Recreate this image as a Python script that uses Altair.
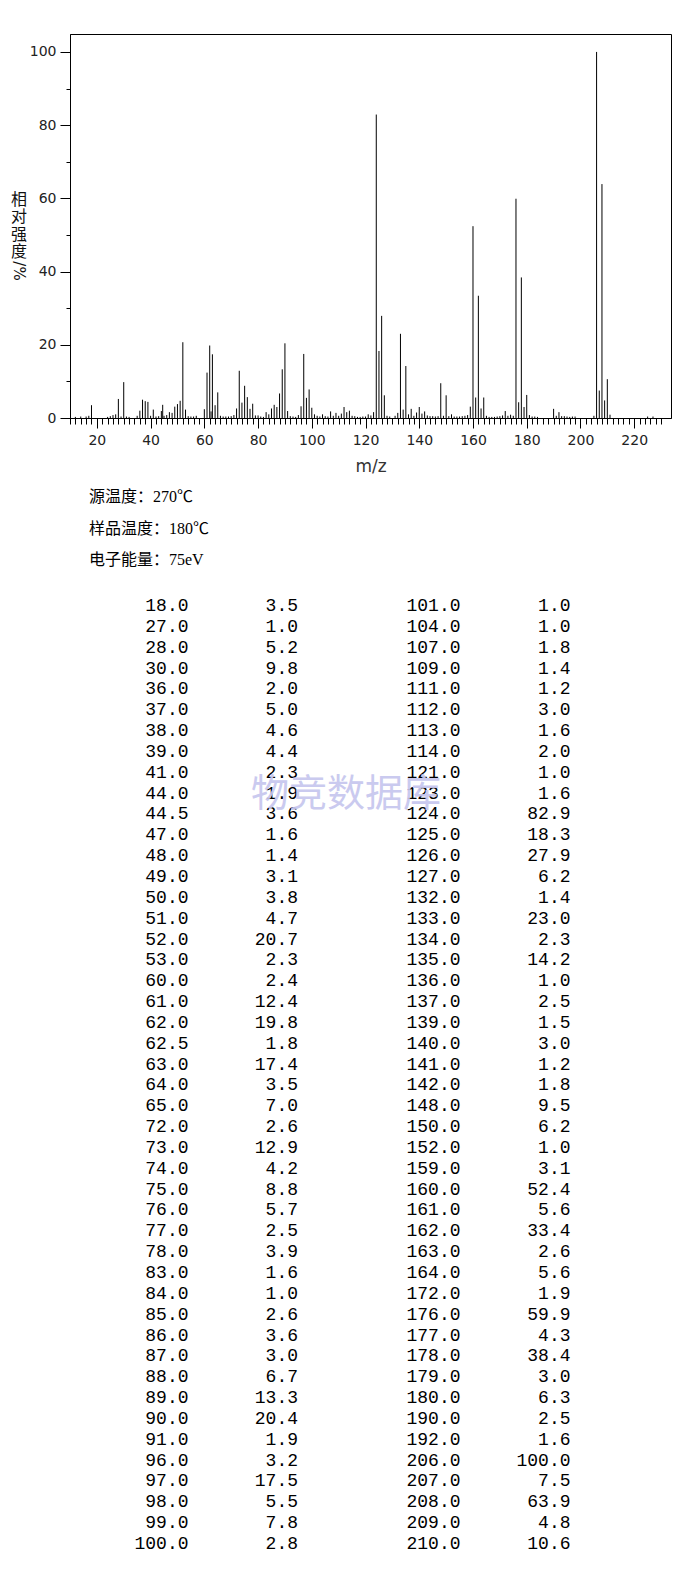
import altair as alt
import pandas as pd

# ---- data ----
col1_mz = [18.0, 27.0, 28.0, 30.0, 36.0, 37.0, 38.0, 39.0, 41.0, 44.0, 44.5, 47.0, 48.0, 49.0, 50.0, 51.0,
           52.0, 53.0, 60.0, 61.0, 62.0, 62.5, 63.0, 64.0, 65.0, 72.0, 73.0, 74.0, 75.0, 76.0, 77.0, 78.0,
           83.0, 84.0, 85.0, 86.0, 87.0, 88.0, 89.0, 90.0, 91.0, 96.0, 97.0, 98.0, 99.0, 100.0]
col1_int = [3.5, 1.0, 5.2, 9.8, 2.0, 5.0, 4.6, 4.4, 2.3, 1.9, 3.6, 1.6, 1.4, 3.1, 3.8, 4.7,
            20.7, 2.3, 2.4, 12.4, 19.8, 1.8, 17.4, 3.5, 7.0, 2.6, 12.9, 4.2, 8.8, 5.7, 2.5, 3.9,
            1.6, 1.0, 2.6, 3.6, 3.0, 6.7, 13.3, 20.4, 1.9, 3.2, 17.5, 5.5, 7.8, 2.8]
col2_mz = [101.0, 104.0, 107.0, 109.0, 111.0, 112.0, 113.0, 114.0, 121.0, 123.0, 124.0, 125.0, 126.0,
           127.0, 132.0, 133.0, 134.0, 135.0, 136.0, 137.0, 139.0, 140.0, 141.0, 142.0, 148.0, 150.0,
           152.0, 159.0, 160.0, 161.0, 162.0, 163.0, 164.0, 172.0, 176.0, 177.0, 178.0, 179.0, 180.0,
           190.0, 192.0, 206.0, 207.0, 208.0, 209.0, 210.0]
col2_int = [1.0, 1.0, 1.8, 1.4, 1.2, 3.0, 1.6, 2.0, 1.0, 1.6, 82.9, 18.3, 27.9,
            6.2, 1.4, 23.0, 2.3, 14.2, 1.0, 2.5, 1.5, 3.0, 1.2, 1.8, 9.5, 6.2,
            1.0, 3.1, 52.4, 5.6, 33.4, 2.6, 5.6, 1.9, 59.9, 4.3, 38.4, 3.0, 6.3,
            2.5, 1.6, 100.0, 7.5, 63.9, 4.8, 10.6]

# small peaks (<1 %) visible in the spectrum but not listed in the table (estimated)
minor_mz = [12, 14, 16, 17, 24, 25, 26, 29, 31, 32, 35, 40, 42, 43, 45, 46, 54, 55, 56, 57,
            66, 67, 68, 69, 70, 71, 79, 80, 81, 82, 92, 93, 94, 95, 102, 103, 105, 106, 108, 110,
            115, 116, 117, 118, 119, 120, 122, 128, 129, 131, 138, 143, 144, 145, 146, 147, 149,
            151, 153, 154, 155, 156, 157, 158, 165, 166, 167, 168, 169, 170, 171, 173, 174, 175,
            181, 182, 183, 184, 191, 193, 194, 195, 196, 197, 198, 205, 211, 225, 227]
minor_int = [0.3, 0.4, 0.4, 0.6, 0.3, 0.5, 0.8, 0.4, 0.4, 0.3, 0.6, 0.6, 0.4, 0.5, 0.6, 0.8, 0.5, 0.4, 0.4, 0.6,
             0.6, 0.4, 0.4, 0.4, 0.5, 0.8, 0.7, 0.7, 0.4, 0.3, 0.5, 0.4, 0.3, 0.8, 0.6, 0.4, 0.5, 0.4, 0.6, 0.6,
             0.6, 0.5, 0.3, 0.3, 0.4, 0.4, 0.7, 0.6, 0.4, 0.6, 0.6, 0.7, 0.5, 0.5, 0.4, 0.5, 0.6,
             0.5, 0.4, 0.4, 0.4, 0.5, 0.6, 0.8, 0.6, 0.3, 0.3, 0.3, 0.4, 0.5, 0.7, 0.6, 0.9, 0.6,
             0.8, 0.4, 0.4, 0.3, 0.6, 0.5, 0.5, 0.4, 0.3, 0.4, 0.4, 0.6, 0.9, 0.4, 0.4]

info_lines = ["源温度：270℃", "样品温度：180℃", "电子能量：75eV"]
y_title_chars = ["相", "对", "强", "度"]
y_title_unit = "/%"
x_title = "m/z"
watermark = "物竞数据库"

x_ticks = list(range(10, 231, 2))
y_ticks = list(range(0, 101, 10))

# ---- tables ----
peaks = pd.DataFrame({"mz": col1_mz + col2_mz + minor_mz,
                      "inten": col1_int + col2_int + minor_int})
n_rows = len(col1_mz)
tab = pd.DataFrame({
    "row": list(range(n_rows)),
    "c1": [f"{v:.1f}" for v in col1_mz],
    "c2": [f"{v:.1f}" for v in col1_int],
    "c3": [f"{v:.1f}" for v in col2_mz],
    "c4": [f"{v:.1f}" for v in col2_int],
})
info = pd.DataFrame({"i": list(range(len(info_lines))), "t": info_lines})
ytc = pd.DataFrame({"i": list(range(len(y_title_chars))), "t": y_title_chars})
one = pd.DataFrame({"k": [0]})

LABEL_FONT = "DejaVu Sans"
CJK = "Noto Sans CJK SC"
MONO = "Liberation Mono"

spec = alt.Chart(peaks).mark_rule(color="black", strokeWidth=1).encode(
    x=alt.X("mz:Q",
            scale=alt.Scale(domain=[10, 233.7], nice=False, zero=False),
            axis=alt.Axis(values=x_ticks,
                          labelExpr="datum.value % 20 === 0 ? datum.label : ''",
                          tickSize={"condition": {"test": "datum.value % 20 === 0", "value": 10}, "value": 6},
                          title=x_title, titleFont=LABEL_FONT, titleFontSize=17, titleFontWeight="normal",
                          titleColor="#333", titlePadding=11,
                          labelFont=LABEL_FONT, labelFontSize=14, labelColor="#222", labelPadding=5,
                          labelOverlap=False, labelFlush=False, grid=False,
                          domainColor="black", tickColor="black")),
    y=alt.Y("inten:Q",
            scale=alt.Scale(domain=[0, 104.9], nice=False, zero=True),
            axis=alt.Axis(values=y_ticks,
                          labelExpr="datum.value % 20 === 0 ? datum.label : ''",
                          tickSize={"condition": {"test": "datum.value % 20 === 0", "value": 10}, "value": 4},
                          title=None,
                          labelFont=LABEL_FONT, labelFontSize=14, labelColor="#222", labelPadding=4,
                          labelOverlap=False, grid=False,
                          domainColor="black", tickColor="black")),
    y2=alt.datum(0),
)

ytitle = alt.Chart(ytc).mark_text(font=CJK, fontSize=16, align="center",
                                  baseline="middle", color="#111").encode(
    x=alt.value(-51),
    y=alt.Y("i:Q", scale=alt.Scale(domain=[0, 3], range=[166, 218]), axis=None),
    text="t:N")
yunit = alt.Chart(one).mark_text(font=LABEL_FONT, fontSize=15, angle=90, align="center",
                                 baseline="middle", color="#111").encode(
    x=alt.value(-51), y=alt.value(237), text=alt.value(y_title_unit))

info_layer = alt.Chart(info).mark_text(font="Liberation Serif, " + CJK, fontSize=16, align="left",
                                       baseline="middle", color="black").encode(
    x=alt.value(19),
    y=alt.Y("i:Q", scale=alt.Scale(domain=[0, 2], range=[463, 526]), axis=None),
    text="t:N")

def table_col(field, xpx):
    return alt.Chart(tab).mark_text(font=MONO, fontSize=18, align="right", baseline="middle",
                                    color="black").encode(
        x=alt.value(xpx),
        y=alt.Y("row:Q", scale=alt.Scale(domain=[0, n_rows - 1], range=[572, 1510]), axis=None),
        text=f"{field}:N")

wm = alt.Chart(one).mark_text(font=CJK, fontSize=38, align="center", baseline="middle",
                              color="#c6c6ee", opacity=0.92).encode(
    x=alt.value(276), y=alt.value(761), text=alt.value(watermark))

chart = alt.layer(
    spec, ytitle, yunit, info_layer,
    table_col("c1", 118.5), table_col("c2", 228), table_col("c3", 390.5), table_col("c4", 500.5),
    wm,
).resolve_scale(y="independent", x="independent").properties(
    width=601, height=384,
    padding={"left": 2, "top": 26, "right": 5, "bottom": 5},
    background="white",
).configure_view(stroke="black", strokeWidth=1)

chart.save("out.html", embed_options={"renderer": "svg", "actions": False})
